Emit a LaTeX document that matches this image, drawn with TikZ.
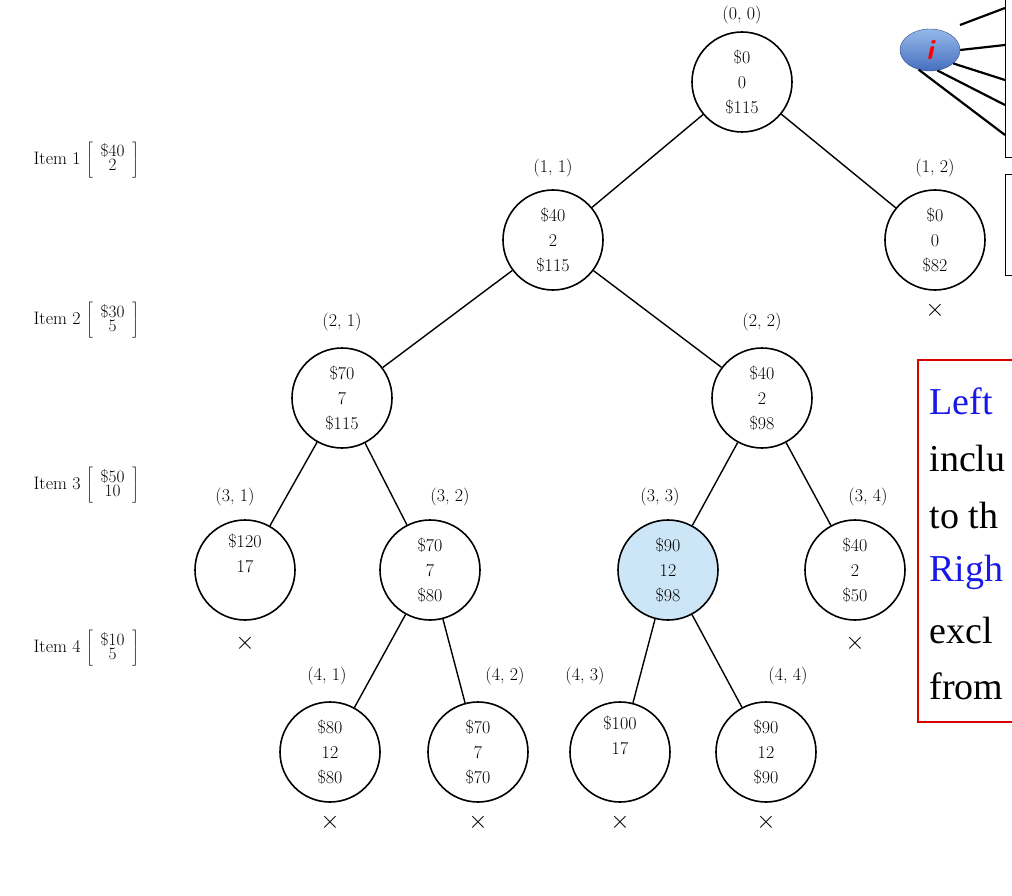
\documentclass[tikz,border=0pt]{standalone}
\usepackage{fontspec}
\setmainfont{Liberation Serif}
\newfontfamily\lmr{Latin Modern Roman}
\usetikzlibrary{shapes.geometric}
\definecolor{hl}{RGB}{205,230,247}
\definecolor{lblue}{RGB}{25,25,230}
\definecolor{elt}{RGB}{150,185,235}
\definecolor{elb}{RGB}{70,110,190}
\tikzset{
  st/.style={circle,draw,line width=1.6pt,minimum size=100pt,inner sep=0pt,align=center,font=\lmr\fontsize{18}{25}\selectfont},
  lb/.style={font=\lmr\fontsize{18}{20}\selectfont},
  xx/.style={font=\fontsize{24}{24}\selectfont},
  ed/.style={line width=1.4pt},
  big/.style={anchor=west,font=\fontsize{38}{40}\selectfont}
}
\begin{document}
\begin{tikzpicture}[x=1pt,y=-1pt]
\useasboundingbox (0,0) rectangle (1012,896);
\clip (0,0) rectangle (1012,896);
\node[st] (n00) at (742,82) {\$0\\0\\\$115};
\node[st] (n11) at (553,240) {\$40\\2\\\$115};
\node[st] (n12) at (935,240) {\$0\\0\\\$82};
\node[st] (n21) at (342,398) {\$70\\7\\\$115};
\node[st] (n22) at (762,398) {\$40\\2\\\$98};
\node[st] (n31) at (245,570) {\$120\\17\\\strut};
\node[st] (n32) at (430,570) {\$70\\7\\\$80};
\node[st,fill=hl] (n33) at (668,570) {\$90\\12\\\$98};
\node[st] (n34) at (855,570) {\$40\\2\\\$50};
\node[st] (n41) at (330,752) {\$80\\12\\\$80};
\node[st] (n42) at (478,752) {\$70\\7\\\$70};
\node[st] (n43) at (620,752) {\$100\\17\\\strut};
\node[st] (n44) at (766,752) {\$90\\12\\\$90};
\foreach \a/\b in {n00/n11,n00/n12,n11/n21,n11/n22,n21/n31,n21/n32,n22/n33,n22/n34,n32/n41,n32/n42,n33/n43,n33/n44}
  \draw[ed] (\a) -- (\b);
\node[lb] (l00) at (742,15) {(0, 0)};
\node[lb] (l11) at (553,168) {(1, 1)};
\node[lb] (l12) at (935,168) {(1, 2)};
\node[lb] (l21) at (342,322) {(2, 1)};
\node[lb] (l22) at (762,322) {(2, 2)};
\node[lb] (l31) at (235,497) {(3, 1)};
\node[lb] (l32) at (450,497) {(3, 2)};
\node[lb] (l33) at (660,497) {(3, 3)};
\node[lb] (l34) at (868,497) {(3, 4)};
\node[lb] (l41) at (327,676) {(4, 1)};
\node[lb] (l42) at (505,676) {(4, 2)};
\node[lb] (l43) at (585,676) {(4, 3)};
\node[lb] (l44) at (788,676) {(4, 4)};
\foreach \p in {(935,310),(245,643),(855,643),(330,822),(478,822),(620,822),(766,822)}
  \node[xx] at \p {$\times$};
\foreach \i/\y/\v/\w in {1/160/40/2,2/320/30/5,3/485/50/10,4/648/10/5}
  \node[lb,anchor=west] (it\i) at (30,\y) {Item \i\ $\left[\,\begin{array}{c}\textstyle\fontsize{14}{14}\selectfont\$\v\\[-6pt]\fontsize{14}{14}\selectfont\w\end{array}\,\right]$};
% top right
\node[ellipse,draw=elb!70!black,top color=elt,bottom color=elb,minimum width=60pt,minimum height=42pt,inner sep=0pt] (ic) at (930,50) {\textcolor{red}{\sffamily\bfseries\itshape\fontsize{28}{28}\selectfont i}};
\draw[line width=1pt] (1005,-2) rectangle (1020,158);
\draw[line width=1pt] (1005,175) rectangle (1020,275);
\coordinate (b1) at (1005,8); \coordinate (b2) at (1005,45); \coordinate (b3) at (1005,80);
\coordinate (b4) at (1005,105); \coordinate (b5) at (1005,135);
\coordinate (s1) at (960,25);
\draw[line width=2.2pt] (s1) -- (b1);
\draw[line width=2.2pt] (ic.east) -- (b2);
\draw[line width=2.2pt] (ic.-30) -- (b3);
\draw[line width=2.2pt] (ic.-70) -- (b4);
\draw[line width=2.2pt] (ic.-120) -- (b5);
\draw[red!85!black,line width=1.5pt] (918,360) rectangle (1030,722);
\node[big,text=lblue] (t1) at (926,401) {Left};
\node[big] (t2) at (926,458) {inclu};
\node[big] (t3) at (926,515) {to th};
\node[big,text=lblue] (t4) at (926,572) {Righ};
\node[big] (t5) at (926,630) {excl};
\node[big] (t6) at (926,686) {from};
\end{tikzpicture}
\end{document}
